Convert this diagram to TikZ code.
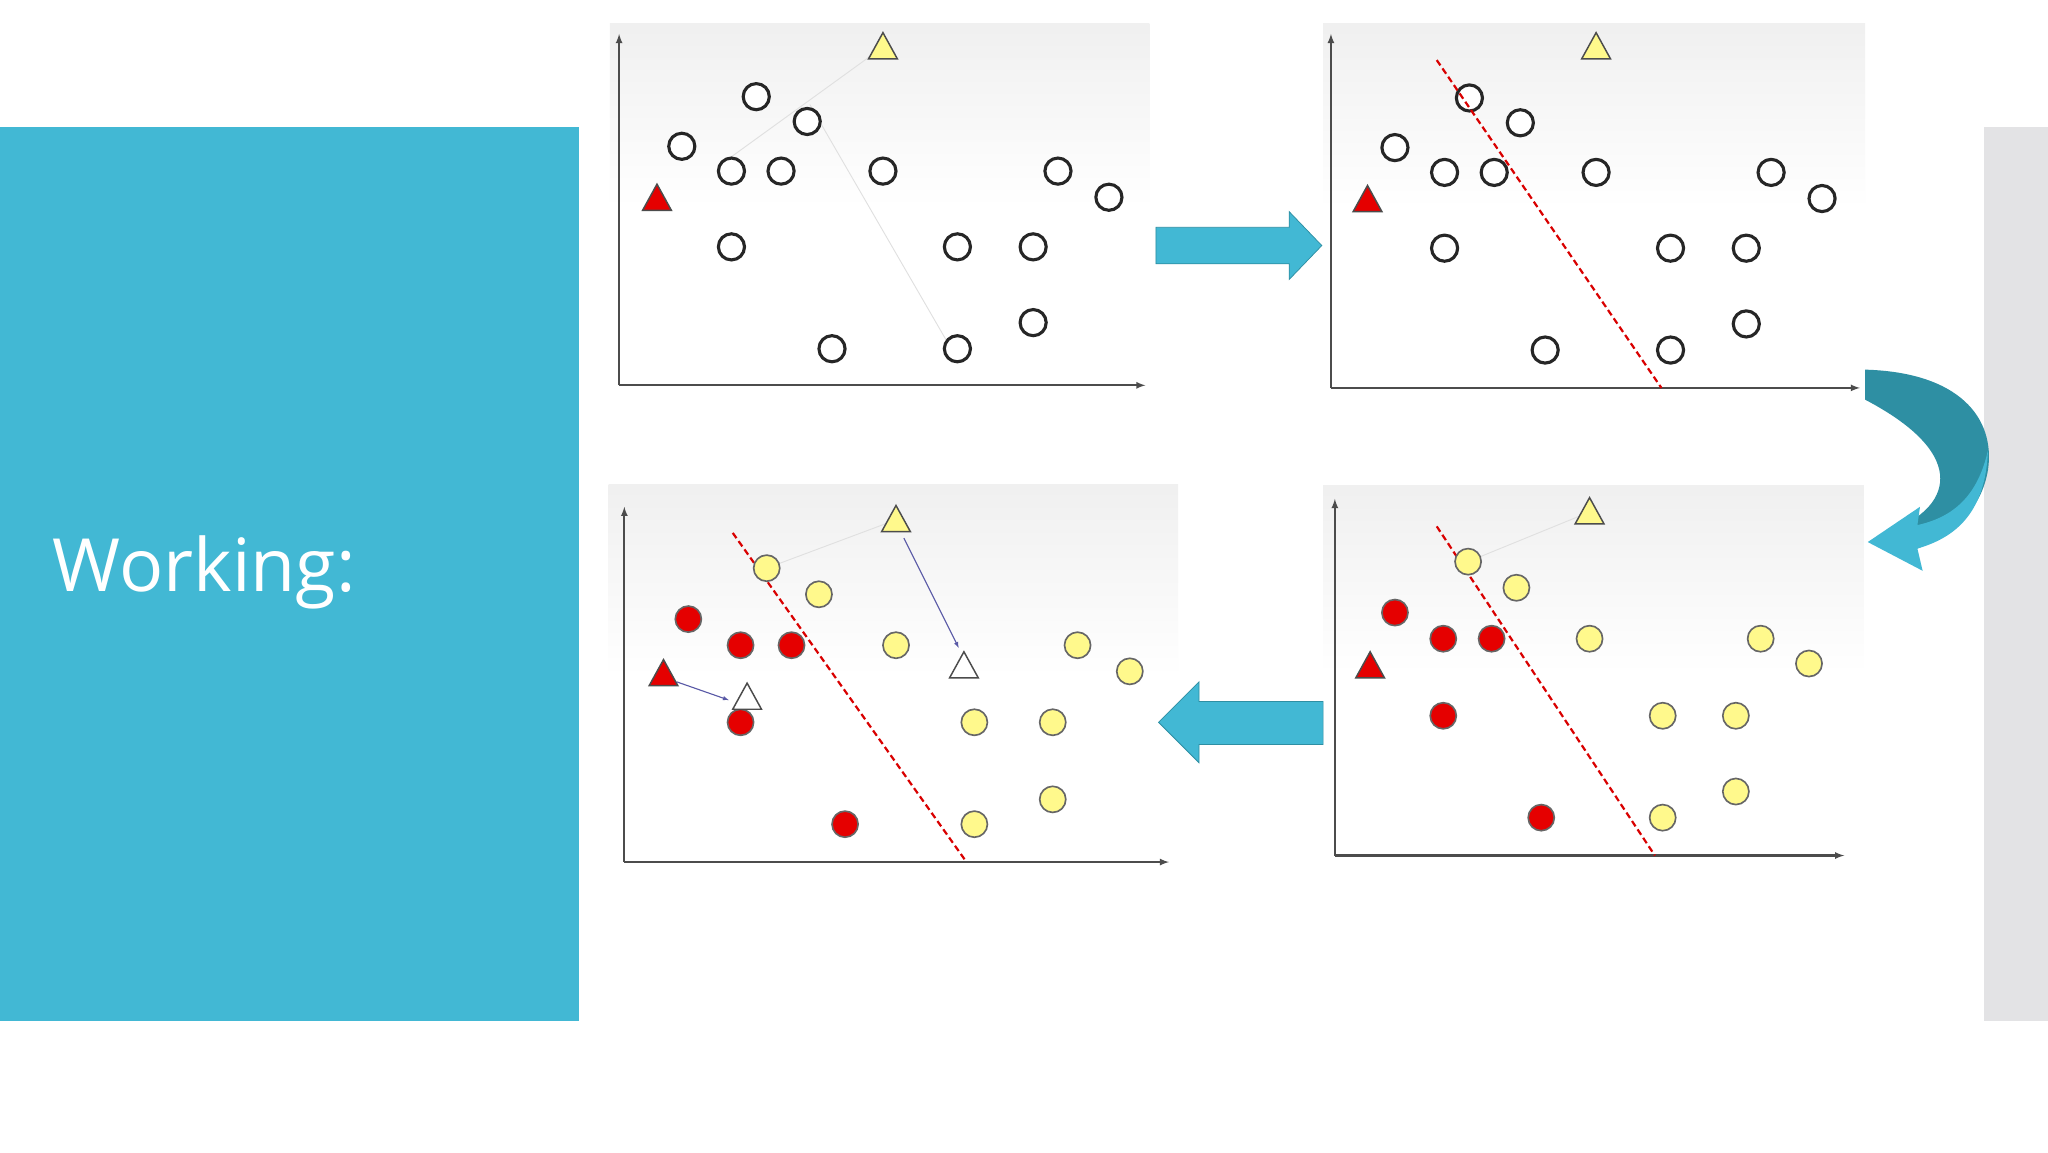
\documentclass[tikz,border=0pt]{standalone}
\usepackage{fontspec}
\setmainfont{Open Sans}
\begin{document}
\begin{tikzpicture}[x=0.05cm,y=-0.05cm,
  opc/.style={draw=black!85,line width=3.4pt,fill=white},
  redc/.style={draw=black!60,line width=1.8pt,fill=red!90!black},
  yelc/.style={draw=black!60,line width=1.8pt,fill=yellow!45},
  axis/.style={draw=black!70,line width=2.4pt,-latex},
  sep/.style={draw=red!85!black,line width=2.4pt,dash pattern=on 7pt off 4pt},
  tri/.style={draw=black!70,line width=1.6pt},
  panel/.style={top color=black!6,bottom color=white,middle color=white,draw=none},
  blockarrow/.style={fill=teal30,draw=teal60,line width=0.8pt}]
\definecolor{teal30}{HTML}{42B8D4}
\definecolor{teal60}{HTML}{2E8FA3}
\definecolor{greybar}{HTML}{E3E3E5}
\useasboundingbox (0,0) rectangle (1568,882);
\fill[white] (0,0) rectangle (1568,882);
\fill[teal30] (0,97) rectangle (443,782);
\fill[greybar] (1519,97) rectangle (1568,782);
\node[anchor=west,text=white,font=\fontsize{80}{90}\selectfont] (title) at (38,438) {Working:};
\newcommand{\tr}[3]{\draw[tri,fill=#3] (#1,#2-11) -- (#1+11,#2+9) -- (#1-11,#2+9) -- cycle;}
% panel 1
\fill[panel] (467,18) rectangle (880,300);
\draw[black!12,line width=1pt] (676,36) -- (560,120) (620,80) -- (730,270);
\draw[axis] (474,295) -- (474,26);
\draw[axis] (474,295) -- (877,295);
\foreach \p in {(579,74),(618,93),(522,112),(560,131),(598,131),(676,131),(810,131),(849,151),(560,189),(733,189),(791,189),(791,247),(637,267),(733,267)}
  \draw[opc] \p circle (10);
\tr{503}{152}{red!90!black}
\tr{676}{36}{yellow!45}
% panel 2
\fill[panel] (1013,18) rectangle (1428,302);
\draw[axis] (1019,297) -- (1019,26);
\draw[axis] (1019,297) -- (1424,297);
\begin{scope}[shift={(546,1)}]
\foreach \p in {(579,74),(618,93),(522,112),(560,131),(598,131),(676,131),(810,131),(849,151),(560,189),(733,189),(791,189),(791,247),(637,267),(733,267)}
  \draw[opc] \p circle (10);
\end{scope}
\tr{1047}{153}{red!90!black}
\tr{1222}{36}{yellow!45}
\draw[sep] (1100,46) -- (1272,297);
% arrow right
\fill[blockarrow] (885,174) -- (987,174) -- (987,162) -- (1012,188) -- (987,214) -- (987,202) -- (885,202) -- cycle;
% curved arrow
\fill[teal60] (1428,283) .. controls (1500,285) and (1528,320) .. (1522,360)
  .. controls (1516,395) and (1490,410) .. (1468,420) -- (1450,405)
  .. controls (1490,390) and (1512,350) .. (1428,306) -- cycle;
\fill[teal30] (1522,345) .. controls (1520,395) and (1495,412) .. (1468,420) -- (1472,437) -- (1430,415) -- (1470,388) -- (1468,402)
  .. controls (1500,395) and (1515,375) .. (1522,345) -- cycle;
% panel 4
\fill[panel] (1013,372) rectangle (1427,660);
\draw[axis] (1022,655) -- (1022,382);
\draw[axis] (1022,655) -- (1412,655);
\draw[black!12,line width=1pt] (1217,392) -- (1124,430);
\draw[sep] (1100,403) -- (1267,655);
\foreach \p in {(1068,469),(1105,489),(1142,489),(1105,548),(1180,626)} \draw[redc] \p circle (10);
\foreach \p in {(1124,430),(1161,450),(1217,489),(1348,489),(1385,508),(1273,548),(1329,548),(1329,606),(1273,626)} \draw[yelc] \p circle (10);
\tr{1049}{510}{red!90!black}
\tr{1217}{392}{yellow!45}
% panel 3
\fill[panel] (466,371) rectangle (902,665);
\draw[axis] (478,660) -- (478,388);
\draw[axis] (478,660) -- (895,660);
\draw[black!12,line width=1pt] (686,398) -- (587,435);
\draw[sep] (561,408) -- (740,660);
\foreach \p in {(527,474),(567,494),(606,494),(567,553),(647,631)} \draw[redc] \p circle (10);
\foreach \p in {(587,435),(627,455),(686,494),(825,494),(865,514),(746,553),(806,553),(806,612),(746,631)} \draw[yelc] \p circle (10);
\tr{508}{516}{red!90!black}
\tr{686}{398}{yellow!45}
\tr{738}{510}{white}
\tr{572}{534}{white}
\coordinate (a1) at (692,412); \coordinate (a2) at (734,496);
\coordinate (b1) at (518,522); \coordinate (b2) at (558,536);
\draw[blue!30!gray,line width=1.2pt,-latex] (a1) -- (a2);
\draw[blue!30!gray,line width=1.2pt,-latex] (b1) -- (b2);
% arrow left
\fill[blockarrow] (1013,537) -- (918,537) -- (918,522) -- (887,553) -- (918,584) -- (918,570) -- (1013,570) -- cycle;
\end{tikzpicture}
\end{document}
